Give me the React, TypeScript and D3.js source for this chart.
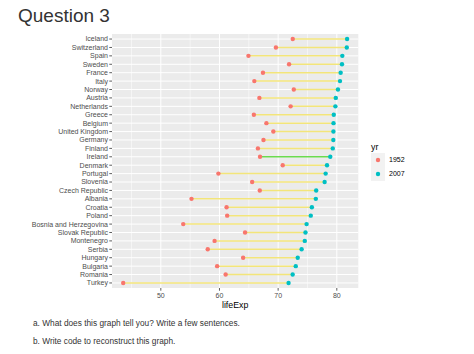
import React from "react";
import * as d3 from "d3";

const countries = [
  "Iceland", "Switzerland", "Spain", "Sweden", "France", "Italy", "Norway", "Austria",
  "Netherlands", "Greece", "Belgium", "United Kingdom", "Germany", "Finland", "Ireland",
  "Denmark", "Portugal", "Slovenia", "Czech Republic", "Albania", "Croatia", "Poland",
  "Bosnia and Herzegovina", "Slovak Republic", "Montenegro", "Serbia", "Hungary",
  "Bulgaria", "Romania", "Turkey",
];
const life1952 = [
  72.49, 69.62, 64.94, 71.86, 67.41, 65.94, 72.67, 66.8,
  72.13, 65.86, 68.0, 69.18, 67.5, 66.55, 66.91,
  70.78, 59.82, 65.57, 66.87, 55.23, 61.21, 61.31,
  53.82, 64.36, 59.164, 57.996, 64.03,
  59.6, 61.05, 43.585,
];
const life2007 = [
  81.757, 81.701, 80.941, 80.884, 80.657, 80.546, 80.196, 79.829,
  79.762, 79.483, 79.441, 79.425, 79.406, 79.313, 78.885,
  78.332, 78.098, 77.926, 76.486, 76.423, 75.748, 75.563,
  74.852, 74.663, 74.543, 74.002, 73.338,
  73.005, 72.476, 71.777,
];
const years = ["1952", "2007"];
const xTicks = [50, 60, 70, 80];
const xMinor = [45, 55, 65, 75];
const highlight = "Ireland";

const W = 474, H = 354;
const panel = { left: 112, right: 358.3, top: 34, bottom: 288 };
const FONT = "'Liberation Sans', Arial, Helvetica, sans-serif";

export default function App() {
  const all = [...life1952, ...life2007];
  const [mn, mx] = d3.extent(all) as [number, number];
  const pad = (mx - mn) * 0.05;
  const x = d3.scaleLinear().domain([mn - pad, mx + pad]).range([panel.left, panel.right]);
  const y = d3.scalePoint<string>().domain(countries).range([panel.top, panel.bottom]).padding(0.6);
  const color = d3.scaleOrdinal<string, string>().domain(years).range(["#F8766D", "#00BFC4"]);

  return (
    <svg width={W} height={H} style={{ position: "absolute", left: 0, top: 0, background: "#fff" }}
      fontFamily={FONT}>
      <text x={18} y={22} fontSize={19} fill="#333">Question 3</text>

      <rect x={panel.left} y={panel.top} width={panel.right - panel.left}
        height={panel.bottom - panel.top} fill="#EBEBEB" />
      {xMinor.map((t) => (
        <line key={"m" + t} x1={x(t)} x2={x(t)} y1={panel.top} y2={panel.bottom}
          stroke="#fff" strokeWidth={0.5} />
      ))}
      {xTicks.map((t) => (
        <line key={"M" + t} x1={x(t)} x2={x(t)} y1={panel.top} y2={panel.bottom}
          stroke="#fff" strokeWidth={1} />
      ))}
      {countries.map((c) => (
        <line key={"h" + c} x1={panel.left} x2={panel.right} y1={y(c)} y2={y(c)}
          stroke="#fff" strokeWidth={1} />
      ))}

      {countries.map((c, i) => (
        <line key={"s" + c} x1={x(life1952[i])} x2={x(life2007[i])} y1={y(c)} y2={y(c)}
          stroke={c === highlight ? "#6BDB4F" : "#F3E57A"} strokeWidth={1.5} />
      ))}
      {countries.map((c, i) => (
        <g key={"p" + c}>
          <circle cx={x(life1952[i])} cy={y(c)} r={2.2} fill={color("1952")} />
          <circle cx={x(life2007[i])} cy={y(c)} r={2.2} fill={color("2007")} />
        </g>
      ))}

      {countries.map((c) => (
        <g key={"yl" + c}>
          <line x1={panel.left - 2.7} x2={panel.left} y1={y(c)} y2={y(c)} stroke="#333" strokeWidth={0.8} />
          <text x={panel.left - 4} y={y(c)} dy="0.35em" textAnchor="end" fontSize={7} fill="#4D4D4D">{c}</text>
        </g>
      ))}
      {xTicks.map((t) => (
        <g key={"xl" + t}>
          <line x1={x(t)} x2={x(t)} y1={panel.bottom} y2={panel.bottom + 2.7} stroke="#333" strokeWidth={0.8} />
          <text x={x(t)} y={panel.bottom + 9.5} textAnchor="middle" fontSize={7} fill="#4D4D4D">{t}</text>
        </g>
      ))}
      <text x={(panel.left + panel.right) / 2} y={308} textAnchor="middle" fontSize={8.8} fill="#000">lifeExp</text>

      <text x={371} y={150} fontSize={8.8} fill="#000">yr</text>
      {years.map((yr, i) => (
        <g key={"lg" + yr}>
          <rect x={371} y={153 + i * 14} width={14} height={14} fill="#F2F2F2" />
          <circle cx={378} cy={160 + i * 14} r={2.2} fill={color(yr)} />
          <text x={389} y={160 + i * 14} dy="0.35em" fontSize={7} fill="#000">{yr}</text>
        </g>
      ))}

      <text x={33} y={326} fontSize={8.3} fill="#333">a. What does this graph tell you? Write a few sentences.</text>
      <text x={33} y={344} fontSize={8.3} fill="#333">b. Write code to reconstruct this graph.</text>
    </svg>
  );
}
